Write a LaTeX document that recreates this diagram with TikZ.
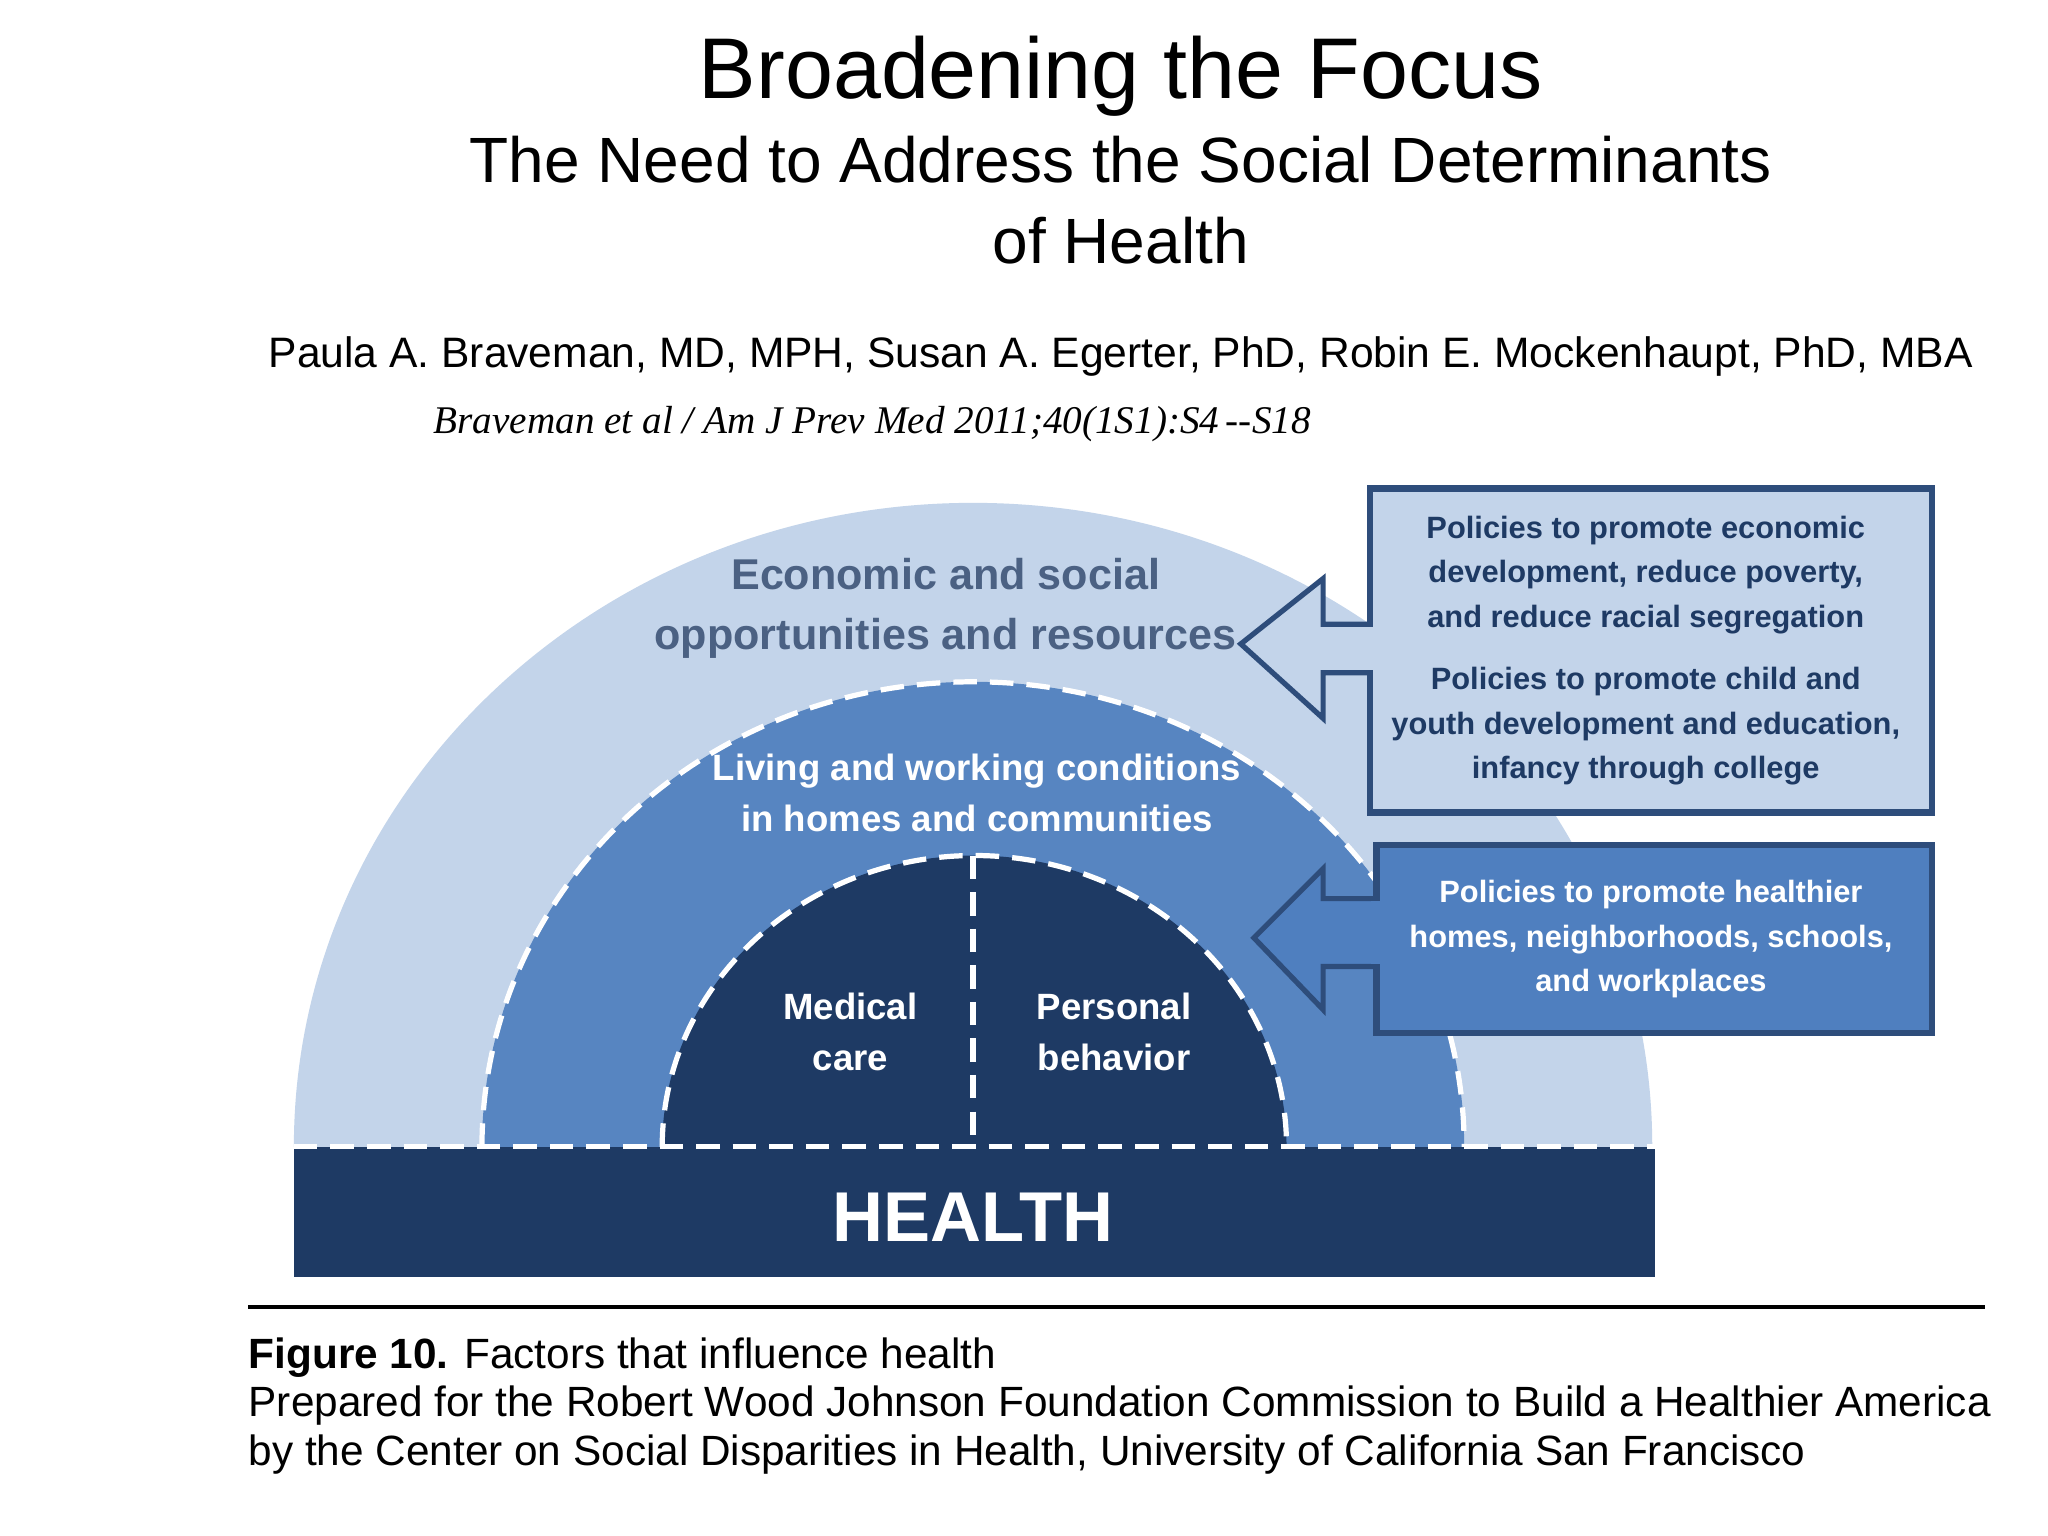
\documentclass[tikz,border=0pt]{standalone}
\usepackage{fontspec}
\setmainfont{Liberation Sans}
\newfontfamily\serifit{Liberation Serif}
\definecolor{lb}{HTML}{C3D4EA}
\definecolor{mb}{HTML}{5785C1}
\definecolor{db}{HTML}{1E3A64}
\definecolor{bd}{HTML}{2E4D7B}
\definecolor{bb}{HTML}{4F7FBF}
\begin{document}
\begin{tikzpicture}[x=0.5pt,y=-0.5pt,
  wdash/.style={white,line width=2pt,dash pattern=on 9pt off 5pt},
  boxtxt/.style={font=\bfseries\fontsize{11.8}{17}\selectfont,align=center},
  arctxt/.style={font=\bfseries\color{white}\fontsize{14}{19.5}\selectfont,align=center}]
\useasboundingbox[fill=white] (0,0) rectangle (1568,1176);
% title
\node (t1) at (858,58) {\fontsize{33}{36}\selectfont Broadening the Focus};
\node (t2) at (858,122) {\fontsize{24.5}{26}\selectfont The Need to Address the Social Determinants};
\node (t3) at (858,184) {\fontsize{24.5}{26}\selectfont of Health};
\node (au) at (858,273) {\fontsize{16.3}{18}\selectfont Paula A. Braveman, MD, MPH, Susan A. Egerter, PhD, Robin E. Mockenhaupt, PhD, MBA};
\node[anchor=west] (ci) at (325,325) {\serifit\itshape\fontsize{15}{16}\selectfont Braveman et al / Am J Prev Med 2011;40(1S1):S4\,--S18};
% rings
\fill[lb] (225,878) arc[start angle=180,end angle=360,x radius=520,y radius=493] -- cycle;
\fill[mb] (369,878) arc[start angle=180,end angle=360,x radius=376,y radius=356] -- cycle;
\draw[wdash] (369,878) arc[start angle=180,end angle=360,x radius=376,y radius=356];
\fill[db] (507,878) arc[start angle=180,end angle=360,x radius=239,y radius=223] -- cycle;
\draw[wdash] (507,878) arc[start angle=180,end angle=360,x radius=239,y radius=223];
\draw[wdash] (745,655) -- (745,878);
\fill[db] (225,878) rectangle (1267,978);
\draw[wdash] (225,878) -- (1267,878);
\node (health) at (745,932) {\bfseries\color{white}\fontsize{27}{30}\selectfont HEALTH};
\node[font=\bfseries\color{db!80!white}\fontsize{16.5}{23}\selectfont,align=center] (eco) at (724,466) {Economic and social\\opportunities and resources};
\node[arctxt] (liv) at (748,607) {Living and working conditions\\in homes and communities};
\node[arctxt] (med) at (651,790) {Medical\\care};
\node[arctxt] (per) at (853,790) {Personal\\behavior};
% arrows
\filldraw[fill=lb,draw=bd,line width=2pt] (1055,478) -- (1013,478) -- (1013,443) -- (950,493) -- (1013,550) -- (1013,515) -- (1055,515);
\filldraw[fill=bb,draw=bd,line width=2pt] (1060,688) -- (1013,688) -- (1013,665) -- (960,718) -- (1013,773) -- (1013,740) -- (1060,740);
% boxes
\filldraw[fill=lb,draw=bd,line width=2.5pt] (1049,374) rectangle (1479,622);
\filldraw[fill=bb,draw=bd,line width=2.5pt] (1054,647) rectangle (1479,791);
\fill[lb] (1045,480) rectangle (1052,513);
\fill[bb] (1050,690) rectangle (1057,738);
\node[boxtxt,text=db] (p1) at (1260,440) {Policies to promote economic\\development, reduce poverty,\\and reduce racial segregation};
\node[boxtxt,text=db] (p2) at (1260,556) {Policies to promote child and\\youth development and education,\\infancy through college};
\node[boxtxt,text=white] (p3) at (1264,719) {Policies to promote healthier\\homes, neighborhoods, schools,\\and workplaces};
% caption
\draw[line width=1.5pt] (190,1001) -- (1520,1001);
\node[anchor=north west,align=left,font=\fontsize{16.2}{18.5}\selectfont,inner sep=0pt] (cap) at (190,1024) {\textbf{Figure 10.} Factors that influence health\\Prepared for the Robert Wood Johnson Foundation Commission to Build a Healthier America\\by the Center on Social Disparities in Health, University of California San Francisco};
\end{tikzpicture}
\end{document}
